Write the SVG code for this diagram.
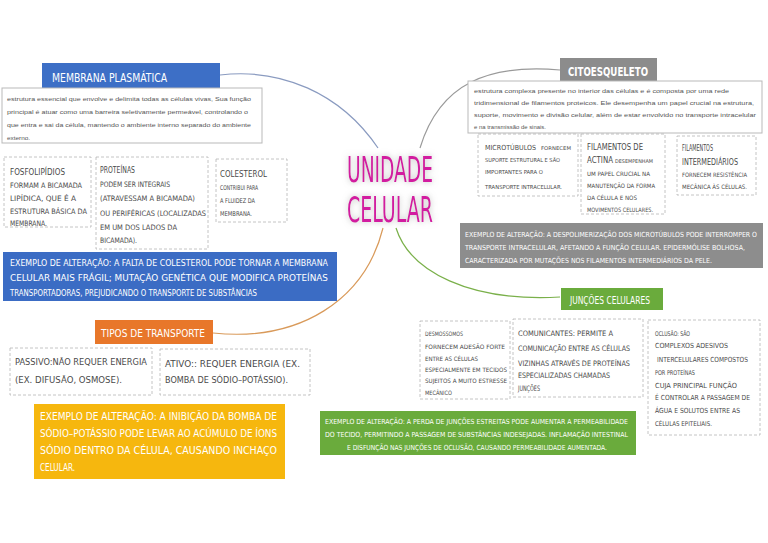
<svg xmlns="http://www.w3.org/2000/svg" width="768" height="543" viewBox="0 0 768 543">
<defs>
<style>
.t{font-family:"Liberation Sans Narrow","DejaVu Sans Condensed","Liberation Sans",Arial,sans-serif;fill:#4a4a4a;font-size:7.5px}
.s{font-family:"Liberation Sans",Arial,sans-serif;fill:#555;font-size:5.5px}
.w{font-family:"Liberation Sans Narrow","DejaVu Sans Condensed","Liberation Sans",Arial,sans-serif;fill:#fff;font-size:9px}
.h{font-family:"Liberation Sans Narrow","DejaVu Sans Condensed","Liberation Sans",Arial,sans-serif;fill:#fff;font-size:13px}
.d{fill:#fff;stroke:#b5b5b5;stroke-width:0.8;stroke-dasharray:3 2}
.p{fill:#fff;stroke:#b9b9b9;stroke-width:1}
.c{fill:none;stroke-width:1.2}
</style>
<filter id="glow" x="-20%" y="-30%" width="140%" height="160%">
<feGaussianBlur in="SourceAlpha" stdDeviation="3" result="b"/>
<feFlood flood-color="#999" flood-opacity="0.7"/>
<feComposite in2="b" operator="in" result="g"/>
<feMerge><feMergeNode in="g"/><feMergeNode in="SourceGraphic"/></feMerge>
</filter>
</defs>
<rect width="768" height="543" fill="#fff"/>

<g id="connectors">
<path class="c" stroke="#8a9bc0" d="M220,75 C280,68 340,92 378,148"/>
<path class="c" stroke="#9a9a9a" d="M560,70 C490,64 440,82 420,148"/>
<path class="c" stroke="#d99a5a" d="M213,333 C300,342 365,300 383,228"/>
<path class="c" stroke="#7ab04a" d="M560,297 C470,302 410,272 396,228"/>
</g>

<g id="center">
<g filter="url(#glow)">
<text x="347" y="182" textLength="86" lengthAdjust="spacingAndGlyphs" style="font-family:'Liberation Sans Narrow','DejaVu Sans Condensed','Liberation Sans',Arial,sans-serif;font-size:36px;fill:#d21aa0">UNIDADE</text>
<text x="347" y="222" textLength="86" lengthAdjust="spacingAndGlyphs" style="font-family:'Liberation Sans Narrow','DejaVu Sans Condensed','Liberation Sans',Arial,sans-serif;font-size:36px;fill:#d21aa0">CELULAR</text>
</g>
</g>

<g id="membrana">
<rect x="42" y="63" width="178" height="25" fill="#3d6fc6"/>
<text class="h" x="52" y="82" textLength="115" lengthAdjust="spacingAndGlyphs">MEMBRANA PLASMÁTICA</text>
<rect class="p" x="2" y="88" width="260" height="55"/>
<text class="s" x="7" y="101" textLength="244" lengthAdjust="spacingAndGlyphs">estrutura essencial que envolve e delimita todas as células vivas, Sua função</text>
<text class="s" x="7" y="114" textLength="241" lengthAdjust="spacingAndGlyphs">principal é atuar como uma barreira seletivamente permeável, controlando o</text>
<text class="s" x="7" y="127" textLength="244" lengthAdjust="spacingAndGlyphs">que entra e sai da célula, mantendo o ambiente interno separado do ambiente</text>
<text class="s" x="7" y="140" textLength="23" lengthAdjust="spacingAndGlyphs">externo.</text>
</g>

<g id="fosfolipidios">
<rect class="d" x="4" y="157" width="87" height="70"/>
<text class="t" x="10" y="175" style="font-size:9px" textLength="55" lengthAdjust="spacingAndGlyphs">FOSFOLIPÍDIOS</text>
<text class="t" x="10" y="188" textLength="72" lengthAdjust="spacingAndGlyphs">FORMAM A BICAMADA</text>
<text class="t" x="10" y="201" textLength="66" lengthAdjust="spacingAndGlyphs">LIPÍDICA, QUE É A</text>
<text class="t" x="10" y="214" textLength="77" lengthAdjust="spacingAndGlyphs">ESTRUTURA BÁSICA DA</text>
<text class="t" x="10" y="226" textLength="37" lengthAdjust="spacingAndGlyphs">MEMBRANA.</text>
</g>

<g id="proteinas">
<rect class="d" x="96" y="157" width="112" height="92"/>
<text class="t" x="100" y="173" style="font-size:9px" textLength="35" lengthAdjust="spacingAndGlyphs">PROTEÍNAS</text>
<text class="t" x="100" y="187" textLength="70" lengthAdjust="spacingAndGlyphs">PODEM SER INTEGRAIS</text>
<text class="t" x="100" y="201" textLength="95" lengthAdjust="spacingAndGlyphs">(ATRAVESSAM A BICAMADA)</text>
<text class="t" x="100" y="216" textLength="106" lengthAdjust="spacingAndGlyphs">OU PERIFÉRICAS (LOCALIZADAS</text>
<text class="t" x="100" y="230" textLength="77" lengthAdjust="spacingAndGlyphs">EM UM DOS LADOS DA</text>
<text class="t" x="100" y="243" textLength="37" lengthAdjust="spacingAndGlyphs">BICAMADA).</text>
</g>

<g id="colesterol">
<rect class="d" x="216" y="159" width="71" height="63"/>
<text class="t" x="220" y="177" style="font-size:9px" textLength="47" lengthAdjust="spacingAndGlyphs">COLESTEROL</text>
<text class="t" x="220" y="190" style="font-size:6.5px" textLength="38" lengthAdjust="spacingAndGlyphs">CONTRIBUI PARA</text>
<text class="t" x="220" y="203" style="font-size:6.5px" textLength="35" lengthAdjust="spacingAndGlyphs">A FLUIDEZ DA</text>
<text class="t" x="220" y="216" style="font-size:6.5px" textLength="32" lengthAdjust="spacingAndGlyphs">MEMBRANA.</text>
</g>

<g id="exemplo-membrana">
<rect x="3" y="252" width="334" height="49" fill="#3b6cc4"/>
<text class="w" x="10" y="266" textLength="318" lengthAdjust="spacingAndGlyphs">EXEMPLO DE ALTERAÇÃO: A FALTA DE COLESTEROL PODE TORNAR A MEMBRANA</text>
<text class="w" x="10" y="281" textLength="318" lengthAdjust="spacingAndGlyphs">CELULAR MAIS FRÁGIL; MUTAÇÃO GENÉTICA QUE MODIFICA PROTEÍNAS</text>
<text class="w" x="10" y="296" textLength="247" lengthAdjust="spacingAndGlyphs">TRANSPORTADORAS, PREJUDICANDO O TRANSPORTE DE SUBSTÂNCIAS</text>
</g>

<g id="tipos-transporte">
<rect x="95" y="320" width="118" height="24" fill="#e8772a"/>
<text class="w" x="101" y="337" style="font-size:11px" textLength="104" lengthAdjust="spacingAndGlyphs">TIPOS DE TRANSPORTE</text>
</g>

<g id="passivo">
<rect class="d" x="10" y="348" width="142" height="47"/>
<text class="t" x="15" y="365" style="font-size:9px" textLength="132" lengthAdjust="spacingAndGlyphs">PASSIVO:NÃO REQUER ENERGIA</text>
<text class="t" x="15" y="383" style="font-size:9px" textLength="107" lengthAdjust="spacingAndGlyphs">(EX. DIFUSÃO, OSMOSE).</text>
</g>

<g id="ativo">
<rect class="d" x="160" y="349" width="150" height="46"/>
<text class="t" x="165" y="367" style="font-size:9px" textLength="135" lengthAdjust="spacingAndGlyphs">ATIVO:: REQUER ENERGIA (EX.</text>
<text class="t" x="165" y="383" style="font-size:9px" textLength="123" lengthAdjust="spacingAndGlyphs">BOMBA DE SÓDIO–POTÁSSIO).</text>
</g>

<g id="exemplo-transporte">
<rect x="34" y="404" width="251" height="75" fill="#f6b70e"/>
<text class="w" x="40" y="420" style="font-size:10px" textLength="237" lengthAdjust="spacingAndGlyphs">EXEMPLO DE ALTERAÇÃO: A INIBIÇÃO DA BOMBA DE</text>
<text class="w" x="40" y="437" style="font-size:10px" textLength="237" lengthAdjust="spacingAndGlyphs">SÓDIO–POTÁSSIO PODE LEVAR AO ACÚMULO DE ÍONS</text>
<text class="w" x="40" y="454" style="font-size:10px" textLength="237" lengthAdjust="spacingAndGlyphs">SÓDIO DENTRO DA CÉLULA, CAUSANDO INCHAÇO</text>
<text class="w" x="40" y="471" style="font-size:10px" textLength="35" lengthAdjust="spacingAndGlyphs">CELULAR.</text>
</g>

<g id="citoesqueleto">
<rect x="560" y="58" width="97" height="23" fill="#8c8c8c"/>
<text class="h" x="568" y="76" style="font-weight:bold" textLength="80" lengthAdjust="spacingAndGlyphs">CITOESQUELETO</text>
<rect class="p" x="468" y="81" width="294" height="52"/>
<text class="s" x="474" y="93" textLength="255" lengthAdjust="spacingAndGlyphs">estrutura complexa presente no interior das células e é composta por uma rede</text>
<text class="s" x="474" y="105" textLength="280" lengthAdjust="spacingAndGlyphs">tridimensional de filamentos proteicos. Ele desempenha um papel crucial na estrutura,</text>
<text class="s" x="474" y="117" textLength="282" lengthAdjust="spacingAndGlyphs">suporte, movimento e divisão celular, além de estar envolvido no transporte intracelular</text>
<text class="s" x="474" y="129" textLength="72" lengthAdjust="spacingAndGlyphs">e na transmissão de sinais.</text>
</g>

<g id="microtubulos">
<rect class="d" x="478" y="134" width="100" height="62"/>
<text class="t" x="485" y="150" style="font-size:7px" textLength="51" lengthAdjust="spacingAndGlyphs">MICROTÚBULOS</text>
<text class="t" x="541" y="150" style="font-size:5px" textLength="30" lengthAdjust="spacingAndGlyphs">FORNECEM</text>
<text class="t" x="485" y="162" style="font-size:5.5px" textLength="75" lengthAdjust="spacingAndGlyphs">SUPORTE ESTRUTURAL E SÃO</text>
<text class="t" x="485" y="174" style="font-size:5.5px" textLength="58" lengthAdjust="spacingAndGlyphs">IMPORTANTES PARA O</text>
<text class="t" x="485" y="189" style="font-size:5.5px" textLength="77" lengthAdjust="spacingAndGlyphs">TRANSPORTE INTRACELULAR.</text>
</g>

<g id="actina">
<rect class="d" x="581" y="134" width="84" height="80"/>
<text class="t" x="587" y="150" style="font-size:8.5px" textLength="56" lengthAdjust="spacingAndGlyphs">FILAMENTOS DE</text>
<text class="t" x="587" y="163" style="font-size:8px" textLength="26" lengthAdjust="spacingAndGlyphs">ACTINA</text>
<text class="t" x="615" y="163" style="font-size:5px" textLength="38" lengthAdjust="spacingAndGlyphs">DESEMPENHAM</text>
<text class="t" x="587" y="176" style="font-size:6px" textLength="63" lengthAdjust="spacingAndGlyphs">UM PAPEL CRUCIAL NA</text>
<text class="t" x="587" y="188" style="font-size:6px" textLength="68" lengthAdjust="spacingAndGlyphs">MANUTENÇÃO DA FORMA</text>
<text class="t" x="587" y="200" style="font-size:6px" textLength="50" lengthAdjust="spacingAndGlyphs">DA CÉLULA E NOS</text>
<text class="t" x="587" y="212" style="font-size:6px" textLength="66" lengthAdjust="spacingAndGlyphs">MOVIMENTOS CELULARES.</text>
</g>

<g id="intermediarios">
<rect class="d" x="677" y="136" width="79" height="59"/>
<text class="t" x="682" y="151" style="font-size:8px" textLength="31" lengthAdjust="spacingAndGlyphs">FILAMENTOS</text>
<text class="t" x="682" y="165" style="font-size:8.5px" textLength="56" lengthAdjust="spacingAndGlyphs">INTERMEDIÁRIOS</text>
<text class="t" x="682" y="177" style="font-size:6px" textLength="65" lengthAdjust="spacingAndGlyphs">FORNECEM RESISTÊNCIA</text>
<text class="t" x="682" y="189" style="font-size:6px" textLength="65" lengthAdjust="spacingAndGlyphs">MECÂNICA ÀS CÉLULAS.</text>
</g>

<g id="exemplo-citoesqueleto">
<rect x="460" y="223" width="303" height="45" fill="#8d8d8d"/>
<text class="w" x="465" y="237" style="font-size:7px" textLength="292" lengthAdjust="spacingAndGlyphs">EXEMPLO DE ALTERAÇÃO: A DESPOLIMERIZAÇÃO DOS MICROTÚBULOS PODE INTERROMPER O</text>
<text class="w" x="465" y="250" style="font-size:7px" textLength="280" lengthAdjust="spacingAndGlyphs">TRANSPORTE INTRACELULAR, AFETANDO A FUNÇÃO CELULAR. EPIDERMÓLISE BOLHOSA,</text>
<text class="w" x="465" y="263" style="font-size:7px" textLength="247" lengthAdjust="spacingAndGlyphs">CARACTERIZADA POR MUTAÇÕES NOS FILAMENTOS INTERMEDIÁRIOS DA PELE.</text>
</g>

<g id="juncoes">
<rect x="561" y="288" width="102" height="22" fill="#6aab3c"/>
<text class="w" x="570" y="304" style="font-size:10px" textLength="80" lengthAdjust="spacingAndGlyphs">JUNÇÕES CELULARES</text>
</g>

<g id="desmossomos">
<rect class="d" x="420" y="321" width="90" height="78"/>
<text class="t" x="425" y="336" style="font-size:6px" textLength="38" lengthAdjust="spacingAndGlyphs">DESMOSSOMOS</text>
<text class="t" x="425" y="349" style="font-size:6px" textLength="80" lengthAdjust="spacingAndGlyphs">FORNECEM ADESÃO FORTE</text>
<text class="t" x="425" y="361" style="font-size:6px" textLength="53" lengthAdjust="spacingAndGlyphs">ENTRE AS CÉLULAS</text>
<text class="t" x="425" y="372" style="font-size:6px" textLength="82" lengthAdjust="spacingAndGlyphs">ESPECIALMENTE EM TECIDOS</text>
<text class="t" x="425" y="383" style="font-size:6px" textLength="82" lengthAdjust="spacingAndGlyphs">SUJEITOS A MUITO ESTRESSE</text>
<text class="t" x="425" y="395" style="font-size:6px" textLength="27" lengthAdjust="spacingAndGlyphs">MECÂNICO</text>
</g>

<g id="comunicantes">
<rect class="d" x="513" y="319" width="130" height="78"/>
<text class="t" x="518" y="336" textLength="95" lengthAdjust="spacingAndGlyphs">COMUNICANTES: PERMITE A</text>
<text class="t" x="518" y="351" textLength="112" lengthAdjust="spacingAndGlyphs">COMUNICAÇÃO ENTRE AS CÉLULAS</text>
<text class="t" x="518" y="366" textLength="112" lengthAdjust="spacingAndGlyphs">VIZINHAS ATRAVÉS DE PROTEÍNAS</text>
<text class="t" x="518" y="378" textLength="92" lengthAdjust="spacingAndGlyphs">ESPECIALIZADAS CHAMADAS</text>
<text class="t" x="518" y="391" textLength="22" lengthAdjust="spacingAndGlyphs">JUNÇÕES</text>
</g>

<g id="oclusao">
<rect class="d" x="648" y="320" width="112" height="115"/>
<text class="t" x="655" y="336" style="font-size:6.5px" textLength="35" lengthAdjust="spacingAndGlyphs">OCLUSÃO: SÃO</text>
<text class="t" x="655" y="348" style="font-size:7px" textLength="73" lengthAdjust="spacingAndGlyphs">COMPLEXOS ADESIVOS</text>
<text class="t" x="657" y="362" style="font-size:7px" textLength="91" lengthAdjust="spacingAndGlyphs">INTERCELULARES COMPOSTOS</text>
<text class="t" x="655" y="375" style="font-size:6.5px" textLength="40" lengthAdjust="spacingAndGlyphs">POR PROTEÍNAS</text>
<text class="t" x="655" y="388" style="font-size:7px" textLength="82" lengthAdjust="spacingAndGlyphs">CUJA PRINCIPAL FUNÇÃO</text>
<text class="t" x="655" y="400" style="font-size:7px" textLength="95" lengthAdjust="spacingAndGlyphs">É CONTROLAR A PASSAGEM DE</text>
<text class="t" x="655" y="413" style="font-size:7px" textLength="85" lengthAdjust="spacingAndGlyphs">ÁGUA E SOLUTOS ENTRE AS</text>
<text class="t" x="655" y="426" style="font-size:6.5px" textLength="57" lengthAdjust="spacingAndGlyphs">CÉLULAS EPITELIAIS.</text>
</g>

<g id="exemplo-juncoes">
<rect x="320" y="411" width="316" height="44" fill="#6aab3c"/>
<text class="w" x="325" y="424" style="font-size:7px" textLength="303" lengthAdjust="spacingAndGlyphs">EXEMPLO DE ALTERAÇÃO: A PERDA DE JUNÇÕES ESTREITAS PODE AUMENTAR A PERMEABILIDADE</text>
<text class="w" x="325" y="437" style="font-size:7px" textLength="303" lengthAdjust="spacingAndGlyphs">DO TECIDO, PERMITINDO A PASSAGEM DE SUBSTÂNCIAS INDESEJADAS. INFLAMAÇÃO INTESTINAL</text>
<text class="w" x="347" y="450" style="font-size:7px" textLength="260" lengthAdjust="spacingAndGlyphs">E DISFUNÇÃO NAS JUNÇÕES DE OCLUSÃO, CAUSANDO PERMEABILIDADE AUMENTADA.</text>
</g>
</svg>
